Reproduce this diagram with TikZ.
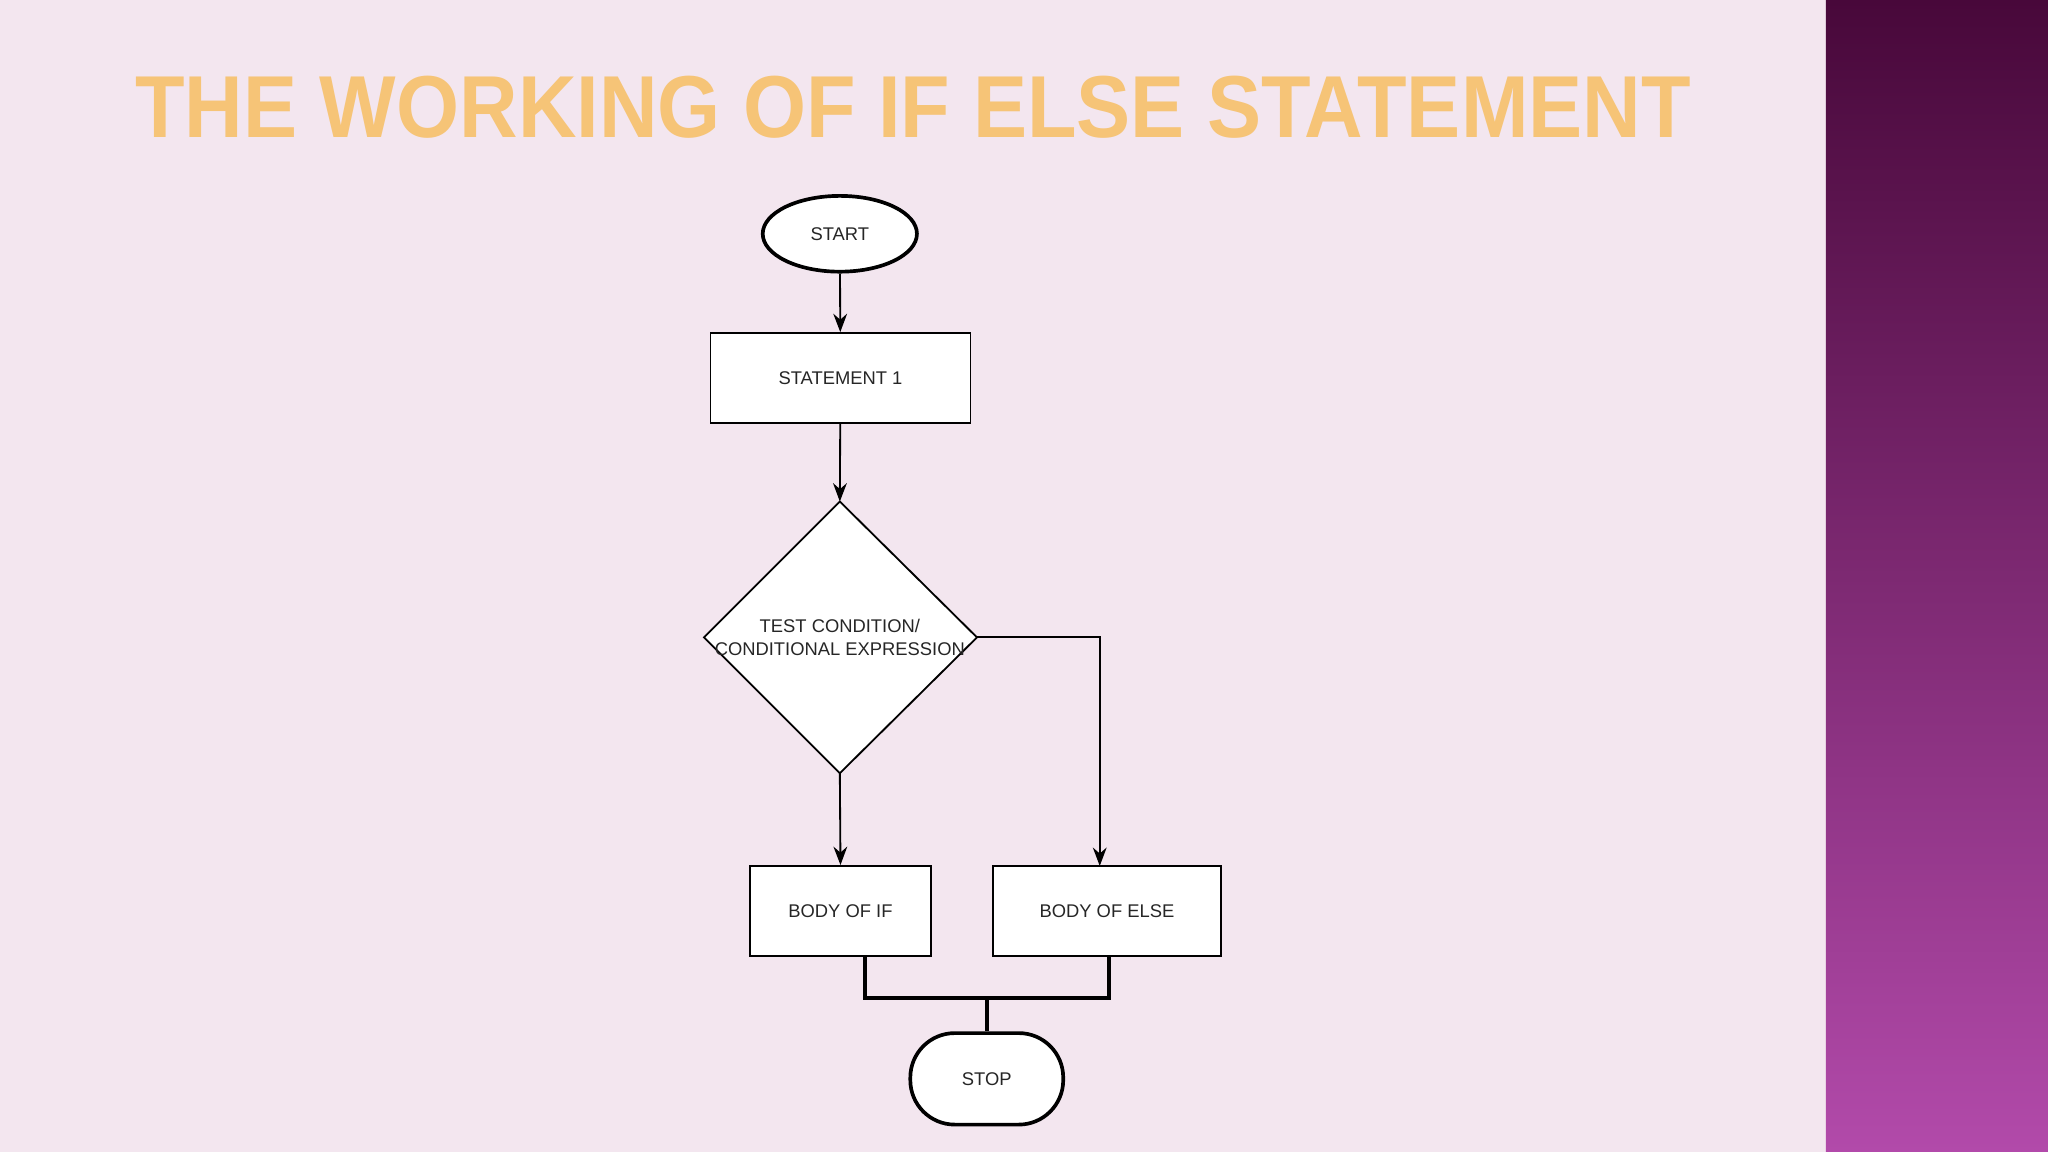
\documentclass[tikz,border=0pt]{standalone}
\usepackage{fontspec}
\setmainfont{Liberation Sans}
\usetikzlibrary{shapes.geometric,arrows.meta}
\definecolor{bgpink}{HTML}{F3E6EF}
\definecolor{ttl}{HTML}{F6C477}
\begin{document}
\begin{tikzpicture}[x=0.01cm,y=-0.01cm,
  lbl/.style={font=\fontsize{4.0}{4.9}\selectfont,align=center,text=black!85},
  boxs/.style={draw,thin,fill=white,lbl,inner sep=0},
  arr/.style={-{Stealth[length=4pt,width=3pt]},thin},
  thk/.style={line width=0.9pt}]
\useasboundingbox (0,0) rectangle (1568,882);
\fill[bgpink] (0,0) rectangle (1398,882);
\shade[top color={rgb,255:red,72;green,8;blue,58},bottom color={rgb,255:red,178;green,74;blue,170}] (1398,0) rectangle (1568,882);
\node (title) at (699,82) {\resizebox{11.9cm}{0.47cm}{\bfseries\color{ttl}THE WORKING OF IF ELSE STATEMENT}};
\node[ellipse,draw,thick,fill=white,minimum width=1.18cm,minimum height=0.58cm,lbl,inner sep=0] (start) at (643,179) {START};
\node[boxs,minimum width=1.99cm,minimum height=0.69cm] (s1) at (643.5,289.5) {STATEMENT 1};
\coordinate (dt) at (643,384);
\coordinate (db) at (643,592);
\coordinate (dl) at (539,488);
\coordinate (dr) at (748,488);
\fill[white,draw=black,thin] (dt) -- (dr) -- (db) -- (dl) -- cycle;
\node[lbl] (cond) at (643,488) {TEST CONDITION/\\CONDITIONAL EXPRESSION};
\node[boxs,minimum width=1.39cm,minimum height=0.69cm] (bif) at (643.5,697.5) {BODY OF IF};
\node[boxs,minimum width=1.75cm,minimum height=0.69cm] (belse) at (847.5,697.5) {BODY OF ELSE};
\node[draw,thick,fill=white,rounded corners=0.34cm,minimum width=1.17cm,minimum height=0.7cm,lbl] (stop) at (755.5,826) {STOP};
\coordinate (j) at (755.5,764);
\draw[arr] (start) -- (s1);
\draw[arr] (s1) -- (dt);
\draw[arr] (db) -- (bif.north);
\draw[arr] (dr) -| (842,663);
\draw[thk] (662,732) |- (j) -| (849,732);
\draw[thk] (j) -- (stop.north);
\end{tikzpicture}
\end{document}
